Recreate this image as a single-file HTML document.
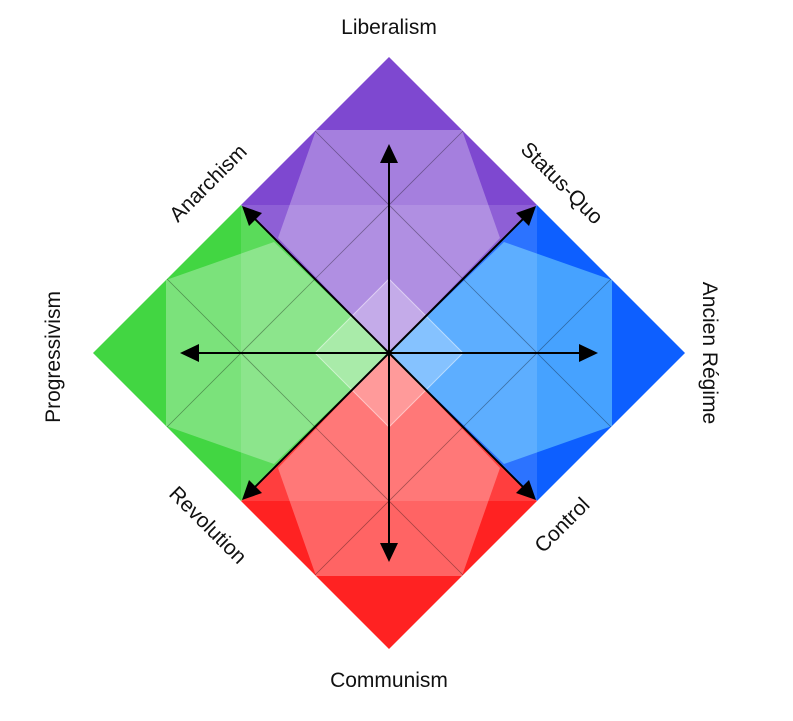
<!DOCTYPE html>
<html><head><meta charset="utf-8"><style>
body{margin:0;background:#fff;}
svg text{font-family:"Liberation Sans",sans-serif;font-size:21px;fill:#111;}
</style></head><body>
<svg width="793" height="716" viewBox="0 0 793 716" xmlns="http://www.w3.org/2000/svg">
<defs>
<clipPath id="q"><polygon points="389,57 537,205 389,353 241,205"/></clipPath>
<g id="quad">
 <g clip-path="url(#q)">
  <rect x="200" y="40" width="380" height="320" fill="var(--c)"/>
  <polygon points="316,130 462,130 500,238 389,353 278,238" fill="var(--o)" fill-opacity="var(--a)"/>
  <rect x="200" y="205" width="380" height="160" fill="#fff" fill-opacity="0.13"/>
  <polygon points="389,279 463,353 389,427 315,353" fill="#fff" fill-opacity="0.25"/>
  <g stroke="#000" stroke-opacity="0.35" stroke-width="0.8">
   <line x1="315" y1="131" x2="463" y2="279"/>
   <line x1="463" y1="131" x2="315" y2="279"/>
  </g>
  <polygon points="389,279 463,353 389,427 315,353" fill="none" stroke="#fff" stroke-opacity="0.5" stroke-width="1"/>
 </g>
</g>
</defs>
<use href="#quad" style="--c:#7e48d0;--o:#fff;--a:0.3"/>
<use href="#quad" style="--c:#0d5fff;--o:#5ab8ff;--a:0.75" transform="rotate(90 389 353)"/>
<use href="#quad" style="--c:#ff2222;--o:#fff;--a:0.3" transform="rotate(180 389 353)"/>
<use href="#quad" style="--c:#42d642;--o:#fff;--a:0.3" transform="rotate(270 389 353)"/>
<g stroke="#000" stroke-width="2">
<line x1="389" y1="353" x2="389" y2="160"/>
<line x1="389" y1="353" x2="389" y2="546"/>
<line x1="389" y1="353" x2="196" y2="353"/>
<line x1="389" y1="353" x2="582" y2="353"/>
<line x1="389" y1="353" x2="253" y2="217"/>
<line x1="389" y1="353" x2="525" y2="217"/>
<line x1="389" y1="353" x2="253" y2="489"/>
<line x1="389" y1="353" x2="525" y2="489"/>
</g>
<g fill="#000">
<polygon points="389,144 380,163 398,163"/>
<polygon points="389,562 380,543 398,543"/>
<polygon points="180,353 199,344 199,362"/>
<polygon points="598,353 579,344 579,362"/>
<polygon points="242,206 262,213 249,226" />
<polygon points="536,206 516,213 529,226"/>
<polygon points="242,500 262,493 249,480"/>
<polygon points="536,500 516,493 529,480"/>
</g>
<text x="389" y="34" text-anchor="middle">Liberalism</text>
<text x="389" y="687" text-anchor="middle">Communism</text>
<text transform="translate(60,357) rotate(-90)" text-anchor="middle">Progressivism</text>
<text transform="translate(703,353) rotate(90)" text-anchor="middle">Ancien Régime</text>
<text transform="translate(213,188) rotate(-45)" text-anchor="middle">Anarchism</text>
<text transform="translate(557,188) rotate(45)" text-anchor="middle">Status-Quo</text>
<text transform="translate(203,530) rotate(45)" text-anchor="middle">Revolution</text>
<text transform="translate(567,530) rotate(-45)" text-anchor="middle">Control</text>
</svg>
</body></html>
